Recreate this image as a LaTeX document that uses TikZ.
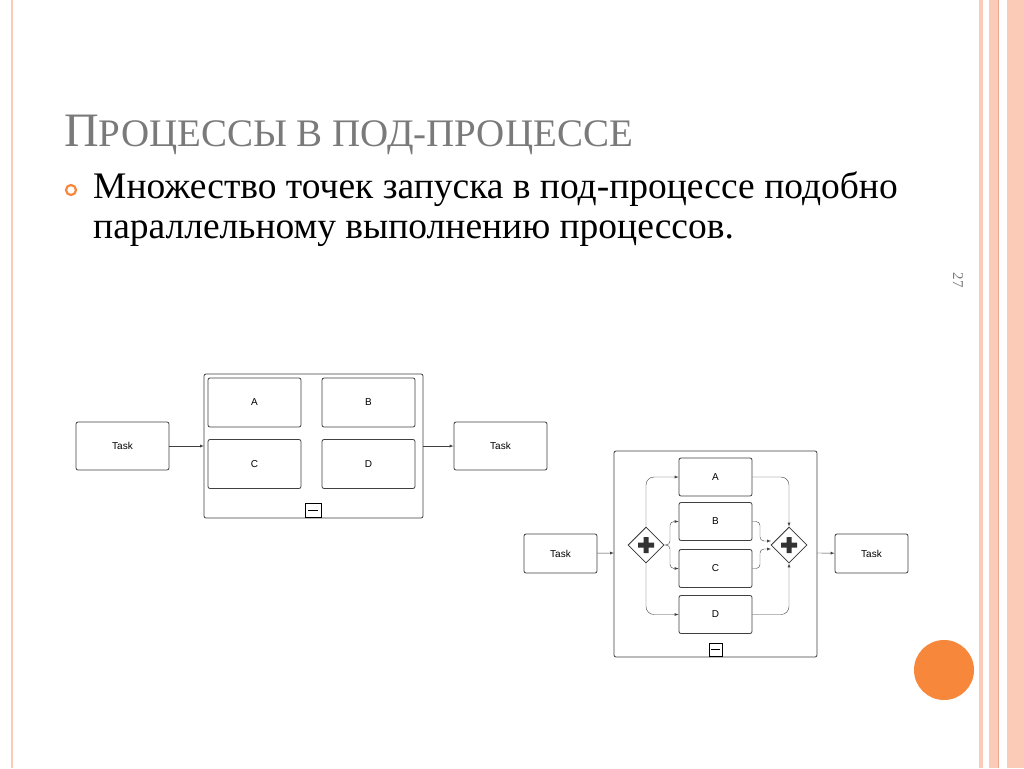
\documentclass[tikz,border=0pt]{standalone}
\usepackage{fontspec}
\setmainfont{Liberation Serif}
\newfontfamily\lblfont{Liberation Sans}
\usetikzlibrary{shapes.geometric}
\definecolor{peach}{HTML}{FBCBB7}
\definecolor{rim}{HTML}{E8A890}
\definecolor{orng}{HTML}{F7873A}
\definecolor{ttl}{HTML}{7A7A7A}
\tikzset{task/.style = {rectangle, rounded corners=2pt, draw=black!75, thick, font=\lblfont\fontsize{10}{10}\selectfont, inner sep=0pt},
         gw/.style = {diamond, draw=black!80, thick, minimum size=36pt, inner sep=0pt},
         sub/.style = {draw=black!75, thick, rounded corners=2pt},
         fl/.style = {->, >=latex, black!75, rounded corners=8pt}}
\begin{document}
\begin{tikzpicture}[x=1pt, y=-1pt]
    \useasboundingbox (0,0) rectangle (1024,768);
    \fill[white] (0,0) rectangle (1024,768);
    % slide frame
    \draw[peach, line width=1.5pt] (12,0) -- (12,768);
    \fill[peach] (979,0) rectangle (983,768);
    \fill[peach] (989,0) rectangle (1024,768);
    \draw[rim, line width=0.8pt] (998,0) -- (998,768);
    \fill[white] (999,0) rectangle (1007,768);
    \fill[orng] (944,670) circle (30);
    \node[rotate=-90, text=ttl, font=\fontsize{15}{15}\selectfont] (pg) at (958,280) {27};
    % title and text
    \node[anchor=base west, text=ttl, font=\fontsize{48}{48}\selectfont, inner sep=0pt] (title) at (64,146)
        {П{\fontsize{39}{39}\selectfont РОЦЕССЫ В ПОД-ПРОЦЕССЕ}};
    \draw[orng, line width=2.2pt] (71,190) circle (5);
    \node[anchor=base west, font=\fontsize{37.5}{37.5}\selectfont, inner sep=0pt] (l1) at (93,198) {Множество точек запуска в под-процессе подобно};
    \node[anchor=base west, font=\fontsize{37.5}{37.5}\selectfont, inner sep=0pt] (l2) at (93,238) {параллельному выполнению процессов.};
    % first diagram
    \draw[sub] (204,374) rectangle (423,518);
    \coordinate (s1w) at (204,446); \coordinate (s1e) at (423,446);
    \node[task, minimum width=93pt, minimum height=49pt] (a1) at (254.5,402.5) {A};
    \node[task, minimum width=93pt, minimum height=49pt] (b1) at (368.5,402.5) {B};
    \node[task, minimum width=93pt, minimum height=49pt] (c1) at (254.5,464) {C};
    \node[task, minimum width=93pt, minimum height=49pt] (d1) at (368.5,464) {D};
    \node[task, minimum width=93pt, minimum height=48pt] (t1) at (122.5,446) {Task};
    \node[task, minimum width=93pt, minimum height=48pt] (t2) at (500.5,446) {Task};
    \draw[fl] (t1) -- (s1w);
    \draw[fl] (s1e) -- (t2);
    \draw[thick] (305,503) rectangle (321,517); \draw[thick] (308,510) -- (318,510);
    % second diagram
    \draw[sub] (614,451) rectangle (817,657);
    \coordinate (s2w) at (614,553); \coordinate (s2e) at (817,553);
    \node[task, minimum width=73pt, minimum height=38pt] (a2) at (715.5,477) {A};
    \node[task, minimum width=73pt, minimum height=38pt] (b2) at (715.5,521.5) {B};
    \node[task, minimum width=73pt, minimum height=38pt] (c2) at (715.5,568.5) {C};
    \node[task, minimum width=73pt, minimum height=38pt] (d2) at (715.5,614.5) {D};
    \node[gw] (g1) at (646,545) {};
    \node[gw] (g2) at (789,545) {};
    \foreach \g in {g1,g2}
      \fill[black!80] ([xshift=-8pt,yshift=-2.5pt]\g.center) rectangle ([xshift=8pt,yshift=2.5pt]\g.center)
                      ([xshift=-2.5pt,yshift=-8pt]\g.center) rectangle ([xshift=2.5pt,yshift=8pt]\g.center);
    \node[task, minimum width=73pt, minimum height=39pt] (t3) at (560.5,553.5) {Task};
    \node[task, minimum width=73pt, minimum height=39pt] (t4) at (871.5,553.5) {Task};
    \draw[fl] (t3) -- (s2w);
    \draw[fl] (s2e) -- (t4);
    \draw[fl] (g1.north) |- (a2.west);
    \draw[fl] (g1.south) |- (d2.west);
    \draw[fl, rounded corners=4pt] (g1.east) -- (670,545) |- (b2.west);
    \draw[fl, rounded corners=4pt] (g1.east) -- (670,545) |- (c2.west);
    \draw[fl] (a2.east) -| (g2.north);
    \draw[fl] (d2.east) -| (g2.south);
    \draw[fl, rounded corners=4pt] (b2.east) -- (760,521.5) |- (771,541);
    \draw[fl, rounded corners=4pt] (c2.east) -- (760,568.5) |- (771,549);
    \draw[thick] (709,643) rectangle (722,656); \draw[thick] (711,649.5) -- (720,649.5);
\end{tikzpicture}
\end{document}
